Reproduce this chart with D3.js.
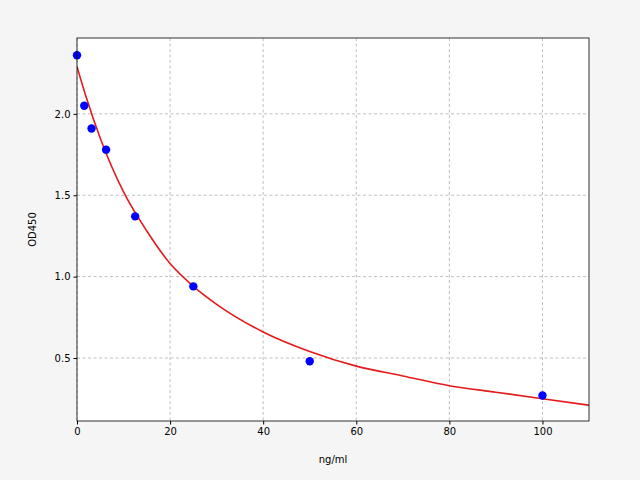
<!DOCTYPE html>
<html><head><meta charset="utf-8">
<script src="https://cdn.jsdelivr.net/npm/d3@7"></script>
<style>body{margin:0;background:#f5f5f5}</style></head>
<body><svg id="c" width="640" height="480"></svg>
<script>
const concentrations=[0,1.5625,3.125,6.25,12.5,25,50,100];
const od=[2.36,2.05,1.91,1.78,1.37,0.94,0.48,0.27];
const fitX=[0,2,5,10,15,20,25,30,40,50,60,70,80,90,100,110];
const fitY=[2.29,2.10,1.85,1.52,1.28,1.08,0.94,0.83,0.66,0.54,0.45,0.39,0.33,0.29,0.25,0.21];
const xTicks=[0,20,40,60,80,100];
const yTicks=[0.5,1.0,1.5,2.0];
const svg=d3.select("#c");
svg.append("rect").attr("width",640).attr("height",480).attr("fill","#f5f5f5");
const L=77,R=589,T=38,B=421;
const x=d3.scaleLinear().domain([0,110]).range([L,R]);
const y=d3.scaleLinear().domain([0.113,2.466]).range([B,T]);
svg.append("rect").attr("x",L).attr("y",T).attr("width",R-L).attr("height",B-T).attr("fill","#fff");
const g=svg.append("g");
xTicks.forEach(t=>g.append("line").attr("x1",x(t)).attr("x2",x(t)).attr("y1",T).attr("y2",B).attr("stroke","#b0b0b0").attr("stroke-dasharray","3,2.5").attr("stroke-width",0.8));
yTicks.forEach(t=>g.append("line").attr("x1",L).attr("x2",R).attr("y1",y(t)).attr("y2",y(t)).attr("stroke","#b0b0b0").attr("stroke-dasharray","3,2.5").attr("stroke-width",0.8));
const line=d3.line().x((d,i)=>x(fitX[i])).y(d=>y(d)).curve(d3.curveMonotoneX);
const clip=svg.append("clipPath").attr("id","cp").append("rect").attr("x",L).attr("y",T).attr("width",R-L).attr("height",B-T);
svg.append("path").attr("d",line(fitY)).attr("fill","none").attr("stroke","#e41a1c").attr("stroke-width",1.6).attr("clip-path","url(#cp)");
svg.selectAll("circle").data(od).enter().append("circle").attr("cx",(d,i)=>x(concentrations[i])).attr("cy",d=>y(d)).attr("r",4.2).attr("fill","#0000ff");
const xa=svg.append("g").attr("transform",`translate(0,${B})`).call(d3.axisBottom(x).tickValues(xTicks).tickFormat(d3.format("d")).tickSize(3.5).tickPadding(3));
const ya=svg.append("g").attr("transform",`translate(${L},0)`).call(d3.axisLeft(y).tickValues(yTicks).tickFormat(d3.format(".1f")).tickSize(3.5).tickPadding(3));
[xa,ya].forEach(a=>{a.select(".domain").remove();a.selectAll("text").attr("font-family","DejaVu Sans").attr("font-size",10).attr("fill","#000");a.selectAll("line").attr("stroke","#000");});
svg.append("rect").attr("x",L).attr("y",T).attr("width",R-L).attr("height",B-T).attr("fill","none").attr("stroke","#000").attr("stroke-width",0.8);
svg.append("text").attr("x",(L+R)/2).attr("y",463).attr("text-anchor","middle").attr("font-family","DejaVu Sans").attr("font-size",10).text("ng/ml");
svg.append("text").attr("transform",`translate(36,${(T+B)/2}) rotate(-90)`).attr("text-anchor","middle").attr("font-family","DejaVu Sans").attr("font-size",10).text("OD450");
</script></body></html>
